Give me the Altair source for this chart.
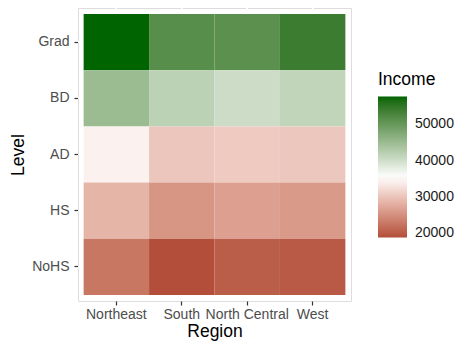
import altair as alt
import pandas as pd

regions = ["Northeast", "South", "North Central", "West"]
levels = ["Grad", "BD", "AD", "HS", "NoHS"]
income = {
    "Grad": [57600, 51500, 51200, 54000],
    "BD":   [45000, 41800, 40300, 41300],
    "AD":   [34300, 30200, 30600, 30300],
    "HS":   [28600, 25600, 26600, 26100],
    "NoHS": [22700, 18900, 20300, 20000],
}
legend_values = [20000, 30000, 40000, 50000]

rows = []
for lv in levels:
    for rg, v in zip(regions, income[lv]):
        rows.append({"Region": rg, "Level": lv, "Income": v})
df = pd.DataFrame(rows)

xscale = alt.Scale(domain=regions, paddingInner=0, paddingOuter=0.086)
yscale = alt.Scale(domain=levels, paddingInner=0, paddingOuter=0.107)

xaxis = alt.Axis(labelAngle=0, labelFontSize=14, labelColor="#4D4D4D",
                 tickColor="#333333", tickSize=4, tickWidth=1.2, labelPadding=2,
                 titleFontSize=17.5, titleColor="#000000", titleFontWeight="normal",
                 titlePadding=1, domain=False, grid=False)
yaxis = alt.Axis(labelFontSize=14, labelColor="#4D4D4D",
                 tickColor="#333333", tickSize=4, tickWidth=1.2, labelPadding=5,
                 titleFontSize=17.5, titleColor="#000000", titleFontWeight="normal",
                 titlePadding=4, domain=False, grid=False)

base = alt.Chart(df)

vgrid = base.mark_rule(color="#FFFFFF", strokeWidth=1.2).encode(
    x=alt.X("Region:N", scale=xscale, axis=xaxis))
hgrid = base.mark_rule(color="#FFFFFF", strokeWidth=1.2).encode(
    y=alt.Y("Level:N", scale=yscale, axis=yaxis))

rects = base.mark_rect().encode(
    x=alt.X("Region:N", scale=xscale, axis=xaxis),
    y=alt.Y("Level:N", scale=yscale, axis=yaxis),
    color=alt.Color("Income:Q",
                    scale=alt.Scale(domain=[18900, 35500, 57600],
                                    range=["#B24E3A", "#FFFFFF", "#006400"],
                                    interpolate="lab"),
                    legend=alt.Legend(orient="none", legendX=300, legendY=63,
                                      values=legend_values, format="d",
                                      gradientLength=141,
                                      gradientThickness=29, titleFontSize=17.5,
                                      titleFontWeight="normal", titleColor="#000000",
                                      titlePadding=8, labelFontSize=14,
                                      labelColor="#1A1A1A", labelOffset=8,
                                      gradientStrokeWidth=0)),
)

chart = alt.layer(vgrid, hgrid, rects).properties(
    width=273, height=293,
    autosize=alt.AutoSizeParams(type="none"),
    padding={"left": 70, "top": 0, "right": 115, "bottom": 46},
).configure_view(
    fill="#EBEBEB", stroke=None
).configure(
    font="Liberation Sans"
)

chart.save("out.html", embed_options={"renderer": "svg", "actions": False})
